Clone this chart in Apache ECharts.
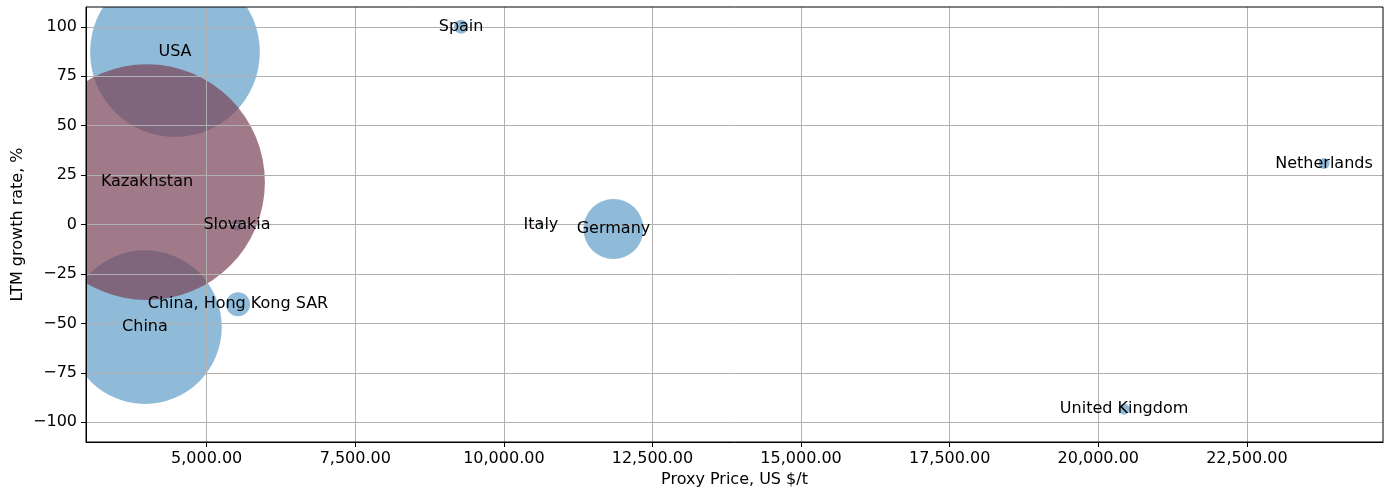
<!DOCTYPE html>
<html>
<head>
<meta charset="utf-8">
<script src="https://cdn.jsdelivr.net/npm/echarts@6/dist/echarts.min.js"></script>
<style>
  html, body { margin: 0; padding: 0; background: #fff; }
  #chart { width: 1389px; height: 489px; }
</style>
</head>
<body>
<div id="chart"></div>
<script>
// Countries: proxy price (US $/t), LTM growth rate (%), trade volume (bubble area)
const countries = ['USA', 'Kazakhstan', 'China', 'China, Hong Kong SAR', 'Slovakia',
                   'Spain', 'Italy', 'Germany', 'Netherlands', 'United Kingdom'];
const proxyPrice = [4467, 3996, 3962, 5527, 5510, 9280, 10624, 11844, 23798, 20434];
const growthRate = [87.2, 21.4, -51.9, -40.3, -0.3, 100.0, 0.0, -2.3, 30.9, -93.4];
const volume     = [72000, 139000, 59000, 1440, 300, 500, 60, 9000, 300, 300];

const highlighted = 'Kazakhstan';
const xTicks = [5000, 7500, 10000, 12500, 15000, 17500, 20000, 22500];
const yTicks = [-100, -75, -50, -25, 0, 25, 50, 75, 100];

const FONT = 'DejaVu Sans';
const W = 1389, H = 489;
const PLOT = { left: 86, right: 6, top: 7, bottom: 47 };
const sizeOf = v => 2 * Math.sqrt(v / 10);

const points = countries.map((c, i) => ({
  name: c,
  value: [proxyPrice[i], growthRate[i], volume[i]]
}));
const others = points.filter(p => p.name !== highlighted);
const focus = points.filter(p => p.name === highlighted);

const fmtPrice = v => v.toLocaleString('en-US', { minimumFractionDigits: 2, maximumFractionDigits: 2 });
const fmtRate = v => (v < 0 ? '\u2212' + Math.abs(v) : String(v));

// white masks around the plot area so large bubbles are cut at the frame
const mask = (x, y, w, h) => ({
  type: 'rect', z: 4, silent: true,
  shape: { x, y, width: w, height: h },
  style: { fill: '#ffffff' }
});

const chart = echarts.init(document.getElementById('chart'), null, { renderer: 'canvas' });
chart.setOption({
  animation: false,
  backgroundColor: '#ffffff',
  graphic: [
    mask(0, 0, PLOT.left, H),
    mask(0, 0, W, PLOT.top),
    mask(W - PLOT.right, 0, PLOT.right, H),
    mask(0, H - PLOT.bottom, W, PLOT.bottom),
    {
      // y-axis title
      type: 'text', z: 7, silent: true,
      x: 18, y: PLOT.top + (H - PLOT.top - PLOT.bottom) / 2,
      rotation: Math.PI / 2,
      style: {
        text: 'LTM growth rate, %',
        fontFamily: FONT, fontSize: 16, fill: '#000',
        align: 'center', verticalAlign: 'middle'
      }
    }
  ],
  grid: {
    left: PLOT.left, right: PLOT.right, top: PLOT.top, bottom: PLOT.bottom,
    outerBoundsMode: 'none', containLabel: false,
    show: true, z: 6,
    borderColor: '#000', borderWidth: 1, backgroundColor: 'transparent'
  },
  xAxis: {
    type: 'value',
    min: 2970, max: 24790,
    z: 5,
    name: 'Proxy Price, US $/t',
    nameLocation: 'middle', nameGap: 29,
    nameTextStyle: { fontFamily: FONT, fontSize: 16, color: '#000' },
    axisLine: { show: true, onZero: false, lineStyle: { color: '#000', width: 1 } },
    axisTick: { show: true, inside: false, length: 5, customValues: xTicks,
                lineStyle: { color: '#000', width: 1 } },
    axisLabel: { customValues: xTicks, margin: 9, formatter: fmtPrice,
                 fontFamily: FONT, fontSize: 16, color: '#000' },
    splitLine: { show: true, lineStyle: { color: '#b0b0b0', width: 1 } }
  },
  yAxis: {
    type: 'value',
    min: -110, max: 110,
    z: 5,
    axisLine: { show: true, onZero: false, lineStyle: { color: '#000', width: 1 } },
    axisTick: { show: true, inside: false, length: 5, customValues: yTicks,
                lineStyle: { color: '#000', width: 1 } },
    axisLabel: { customValues: yTicks, margin: 9, formatter: fmtRate,
                 fontFamily: FONT, fontSize: 16, color: '#000' },
    splitLine: { show: true, lineStyle: { color: '#b0b0b0', width: 1 } }
  },
  series: [
    {
      type: 'scatter',
      z: 2,
      data: others,
      symbolSize: d => sizeOf(d[2]),
      itemStyle: { color: '#1f77b4', opacity: 0.5 },
      emphasis: { disabled: true }
    },
    {
      type: 'scatter',
      z: 3,
      data: focus,
      symbolSize: d => sizeOf(d[2]),
      itemStyle: { color: 'rgb(119,65,85)', opacity: 0.7 },
      emphasis: { disabled: true }
    },
    {
      // country names, centred on each bubble
      type: 'scatter',
      z: 10,
      clip: false,
      data: points,
      symbolSize: 0,
      itemStyle: { opacity: 1 },
      label: {
        show: true, position: 'inside', opacity: 1,
        formatter: p => p.name,
        fontFamily: FONT, fontSize: 16, color: '#000',
        textBorderWidth: 0
      },
      emphasis: { disabled: true }
    }
  ]
});
</script>
</body>
</html>
